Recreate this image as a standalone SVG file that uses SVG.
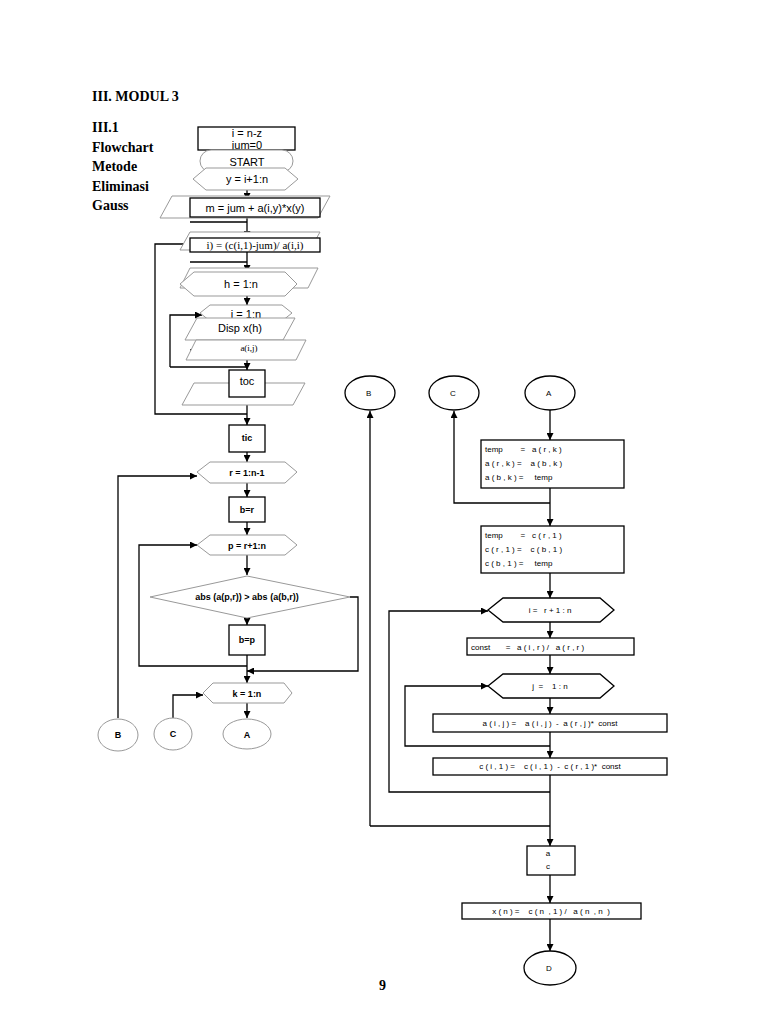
<svg xmlns="http://www.w3.org/2000/svg" width="768" height="1024" viewBox="0 0 768 1024" xml:space="preserve">
<defs>
<marker id="ah" viewBox="0 0 10 10" refX="10" refY="5" markerWidth="7" markerHeight="7" orient="auto" markerUnits="userSpaceOnUse"><path d="M0,0L10,5L0,10z" fill="#000"/></marker>
<style>
text{white-space:pre}
.t{font-family:"Liberation Serif",serif;font-weight:bold;font-size:14px;fill:#000}
.s{font-family:"Liberation Sans",Arial,sans-serif;font-size:11px;fill:#000}
.m{font-family:"Liberation Sans",Arial,sans-serif;font-size:8px;fill:#000}
.l{font-family:"Liberation Sans",Arial,sans-serif;font-size:9px;font-weight:bold;fill:#000}
.b{fill:#fff;stroke:#000;stroke-width:1.3}
.g{fill:#fff;stroke:#999;stroke-width:1}
.c{fill:none;stroke:#000;stroke-width:1.3}
.a{fill:none;stroke:#000;stroke-width:1.3;marker-end:url(#ah)}
</style>
</defs>
<rect width="768" height="1024" fill="#fff"/>
<g id="title">
<text class="t" x="92" y="101">III. MODUL 3</text>
<text class="t" x="92" y="132">III.1</text>
<text class="t" x="92" y="152">Flowchart</text>
<text class="t" x="92" y="171">Metode</text>
<text class="t" x="92" y="191">Eliminasi</text>
<text class="t" x="92" y="210">Gauss</text>
<text class="t" x="379" y="990">9</text>
</g>
<g id="connectors">
<path class="c" d="M247,150V160"/>
<path class="a" d="M247,188V200"/>
<path class="c" d="M190,222H247"/>
<path class="a" d="M247,217V238"/>
<path class="c" d="M190,262H247"/>
<path class="a" d="M247,252V272"/>
<path class="a" d="M247,290V305"/>
<path class="a" d="M170,367V315H202"/>
<path class="c" d="M170,367H247"/>
<path class="c" d="M190,350H247"/>
<path class="a" d="M247,340V370"/>
<path class="c" d="M190,244H155V414H247"/>
<path class="a" d="M247,397V425"/>
<path class="a" d="M247,452V462"/>
<path class="a" d="M118,718V476H197"/>
<path class="a" d="M247,483V497"/>
<path class="a" d="M247,522V535"/>
<path class="a" d="M247,666H139V545H197"/>
<path class="a" d="M247,555V575"/>
<path class="a" d="M247,618V625"/>
<path class="a" d="M350,597H358V671H247"/>
<path class="a" d="M247,655V683"/>
<path class="a" d="M173,718V695H203"/>
<path class="a" d="M247,703V718"/>
<path class="a" d="M550,410V440"/>
<path class="a" d="M550,503H454V411"/>
<path class="a" d="M550,488V526"/>
<path class="a" d="M550,573V598"/>
<path class="a" d="M550,792H389V611H488"/>
<path class="a" d="M550,622V638"/>
<path class="a" d="M550,655V674"/>
<path class="a" d="M550,746H405V686H488"/>
<path class="a" d="M550,698V714"/>
<path class="a" d="M550,732V758"/>
<path class="a" d="M370,826V411"/>
<path class="c" d="M370,826H550"/>
<path class="a" d="M550,775V846"/>
<path class="a" d="M550,875V903"/>
<path class="a" d="M550,919V951"/>
</g>
<g id="top-left">
<path class="g" d="M160,218L172,196H330L318,218Z"/>
<path class="g" d="M180,250L190,232H320L310,250Z"/>
<path class="g" d="M180,288L190,268H318L308,288Z"/>
<rect class="b" x="198" y="127" width="97" height="23"/>
<text class="s" x="247" y="137" text-anchor="middle">i = n-z</text>
<text class="s" x="247" y="149" text-anchor="middle">jum=0</text>
<rect class="g" x="200" y="150" width="93" height="22" rx="11"/>
<text class="s" x="247" y="166" text-anchor="middle">START</text>
<path class="g" d="M193,179L206,168H285L298,179L285,190H206Z"/>
<text class="s" x="247" y="183" text-anchor="middle">y = i+1:n</text>
<rect class="b" x="190" y="198" width="130" height="19"/>
<text class="s" x="255" y="212" text-anchor="middle">m = jum + a(i,y)*x(y)</text>
<rect class="b" x="190" y="238" width="130" height="14"/>
<text x="255" y="249" text-anchor="middle" font-family="Liberation Serif,serif" font-size="11">i) = (c(i,1)-jum)/ a(i,i)</text>
<path class="g" d="M180,284L194,272H285L297,284L285,296H194Z"/>
<text class="s" x="241" y="288" text-anchor="middle">h = 1:n</text>
<path class="g" d="M200,313L210,305H282L292,313L282,321H210Z"/>
<text class="s" x="246" y="318" text-anchor="middle">j = 1:n</text>
<path class="g" d="M185,340L197,318H295L283,340Z"/>
<text class="s" x="240" y="332" text-anchor="middle">Disp x(h)</text>
<path class="g" d="M186,360L196,340H306L296,360Z"/>
<text x="249" y="351" text-anchor="middle" font-family="Liberation Serif,serif" font-size="9">a(i,j)</text>
<path class="g" d="M182,405L194,383H305L293,405Z"/>
<rect class="b" x="229" y="370" width="36" height="27"/>
<text class="s" x="247" y="385" text-anchor="middle">toc</text>
</g>
<g id="tic"><rect class="b" x="229" y="425" width="36" height="27"/><text class="l" x="247" y="441" text-anchor="middle">tic</text></g>
<g id="r-loop"><path class="g" d="M197,472L210,462H285L297,472L285,483H210Z"/><text class="l" x="247" y="476" text-anchor="middle">r = 1:n-1</text></g>
<g id="b-r"><rect class="b" x="229" y="497" width="36" height="25"/><text class="l" x="247" y="513" text-anchor="middle">b=r</text></g>
<g id="p-loop"><path class="g" d="M197,545L210,535H285L297,545L285,555H210Z"/><text class="l" x="247" y="549" text-anchor="middle">p = r+1:n</text></g>
<g id="cond"><path class="g" d="M150,597L247,576L350,597L247,618Z"/><text class="l" x="247" y="600" text-anchor="middle">abs (a(p,r)) &gt; abs (a(b,r))</text></g>
<g id="b-p"><rect class="b" x="229" y="625" width="36" height="30"/><text class="l" x="247" y="643" text-anchor="middle">b=p</text></g>
<g id="k-loop"><path class="g" d="M203,693L213,683H284L292,693L284,703H213Z"/><text class="l" x="247" y="697" text-anchor="middle">k = 1:n</text></g>
<g id="B1"><ellipse class="g" cx="118" cy="735" rx="20" ry="16"/><text class="l" x="118" y="738" text-anchor="middle">B</text></g>
<g id="C1"><ellipse class="g" cx="173" cy="734" rx="19" ry="16"/><text class="l" x="173" y="737" text-anchor="middle">C</text></g>
<g id="A1"><ellipse class="g" cx="247" cy="734" rx="24" ry="15"/><text class="l" x="247" y="738" text-anchor="middle">A</text></g>
<g id="B2"><ellipse class="b" cx="370" cy="393" rx="25" ry="17"/><text class="m" x="366" y="396">B</text></g>
<g id="C2"><ellipse class="b" cx="454" cy="393" rx="25" ry="17"/><text class="m" x="450" y="396">C</text></g>
<g id="A2"><ellipse class="b" cx="550" cy="393" rx="25" ry="17"/><text class="m" x="546" y="396">A</text></g>
<g id="swap1"><rect class="b" x="481" y="440" width="143" height="48"/>
<text class="m" x="485" y="452">temp        =   a ( r , k )</text>
<text class="m" x="485" y="466">a ( r , k ) =    a ( b , k )</text>
<text class="m" x="485" y="480">a ( b , k ) =     temp</text></g>
<g id="swap2"><rect class="b" x="481" y="526" width="143" height="47"/>
<text class="m" x="485" y="538">temp        =   c ( r , 1 )</text>
<text class="m" x="485" y="552">c ( r , 1 ) =    c ( b , 1 )</text>
<text class="m" x="485" y="566">c ( b , 1 ) =     temp</text></g>
<g id="i-loop"><path class="b" d="M488,610L503,598H600L614,610L600,622H503Z"/><text class="m" x="550" y="613" text-anchor="middle">i =   r + 1 : n</text></g>
<g id="const"><rect class="b" x="467" y="638" width="167" height="17"/><text class="m" x="471" y="650">const       =   a ( i , r ) /   a ( r , r )</text></g>
<g id="j-loop"><path class="b" d="M488,686L503,674H600L614,686L600,698H503Z"/><text class="m" x="550" y="689" text-anchor="middle">j  =    1 : n</text></g>
<g id="aij"><rect class="b" x="433" y="714" width="234" height="18"/><text class="m" x="550" y="726" text-anchor="middle">a ( i , j ) =    a ( i , j )  -  a ( r , j )*  const</text></g>
<g id="ci1"><rect class="b" x="433" y="758" width="234" height="17"/><text class="m" x="550" y="769" text-anchor="middle">c ( i , 1 ) =    c ( i , 1 )  -  c ( r , 1 )*  const</text></g>
<g id="ac"><rect class="b" x="527" y="846" width="48" height="29"/><text class="m" x="548" y="856" text-anchor="middle">a</text><text class="m" x="548" y="869" text-anchor="middle">c</text></g>
<g id="xn"><rect class="b" x="462" y="903" width="179" height="16"/><text class="m" x="551" y="914" text-anchor="middle">x ( n ) =    c ( n  , 1 ) /   a ( n  , n  )</text></g>
<g id="D"><ellipse class="b" cx="550" cy="968" rx="26" ry="17"/><text class="m" x="546" y="971">D</text></g>
</svg>
